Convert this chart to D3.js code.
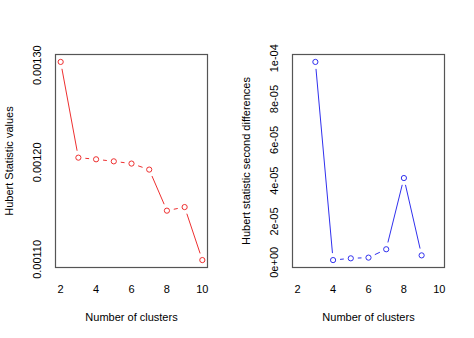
<!DOCTYPE html>
<html><head><meta charset="utf-8">
<script src="https://cdn.jsdelivr.net/npm/d3@7"></script>
<style>body{margin:0;background:#fff}svg{display:block}text{font-family:"Liberation Sans",Arial,sans-serif;font-size:11px;fill:#000}</style>
</head><body>
<script>
const clustersLeft = [2,3,4,5,6,7,8,9,10];
const hubertValues = [0.0013034,0.0012048,0.0012031,0.0012010,0.0011987,0.0011925,0.0011502,0.0011539,0.0010993];
const clustersRight = [3,4,5,6,7,8,9];
const secondDiffs = [9.82e-5,1.1e-6,1.96e-6,2.3e-6,6.4e-6,4.13e-5,3.4e-6];
const xTicks = [2,4,6,8,10];
const leftYTicks = [0.0011,0.0012,0.0013];
const leftYTickLabels = ["0.00110","0.00120","0.00130"];
const rightYTicks = [0,2e-5,4e-5,6e-5,8e-5,1e-4];
const rightYTickLabels = ["0e+00","2e-05","4e-05","6e-05","8e-05","1e-04"];

const W=474,H=338;
const svg=d3.select("body").append("svg").attr("width",W).attr("height",H);

function panel(x0,x1,xs,ys,yTicks,yLabels,color,yTitle){
  const top=54,bottom=268;
  const xe=[1.68,10.32];
  const ye=d3.extent(ys), pad=(ye[1]-ye[0])*0.04;
  const x=d3.scaleLinear().domain(xe).range([x0,x1]);
  const y=d3.scaleLinear().domain([ye[0]-pad,ye[1]+pad]).range([bottom,top]);
  const g=svg.append("g");
  // segments with gaps (type "b")
  const gap=7;
  for(let i=0;i<xs.length-1;i++){
    const ax=x(xs[i]),ay=y(ys[i]),bx=x(xs[i+1]),by=y(ys[i+1]);
    const dx=bx-ax,dy=by-ay,L=Math.hypot(dx,dy);
    if(L>2*gap){
      const ux=dx/L,uy=dy/L;
      g.append("line").attr("x1",ax+ux*gap).attr("y1",ay+uy*gap).attr("x2",bx-ux*gap).attr("y2",by-uy*gap)
        .attr("stroke",color).attr("stroke-width",1);
    }
  }
  g.selectAll("circle.pt").data(xs.map((d,i)=>[d,ys[i]])).join("circle")
    .attr("cx",d=>x(d[0])).attr("cy",d=>y(d[1])).attr("r",2.6)
    .attr("fill","none").attr("stroke",color).attr("stroke-width",1);
  g.append("rect").attr("x",x0+0.5).attr("y",top+0.5).attr("width",x1-x0-1).attr("height",bottom-top-1)
    .attr("fill","none").attr("stroke","#555").attr("stroke-width",1.2);
  // x tick labels
  g.selectAll("text.xt").data(xTicks).join("text").attr("class","xt")
    .attr("x",d=>x(d)).attr("y",293).attr("text-anchor","middle").text(d=>d);
  // y tick labels
  g.selectAll("text.yt").data(yTicks).join("text").attr("class","yt")
    .attr("transform",d=>`translate(${x0-14},${y(d)}) rotate(-90)`)
    .attr("text-anchor","middle").text((d,i)=>yLabels[i]);
  g.append("text").attr("x",(x0+x1)/2).attr("y",321).attr("text-anchor","middle").text("Number of clusters");
  g.append("text").attr("transform",`translate(${x0-42.5},${(top+bottom)/2}) rotate(-90)`)
    .attr("text-anchor","middle").text(yTitle);
}
panel(55,208,clustersLeft,hubertValues,leftYTicks,leftYTickLabels,"#ee3030","Hubert Statistic values");
panel(292,445,clustersRight,secondDiffs,rightYTicks,rightYTickLabels,"#3030ee","Hubert statistic second differences");
</script>
</body></html>
